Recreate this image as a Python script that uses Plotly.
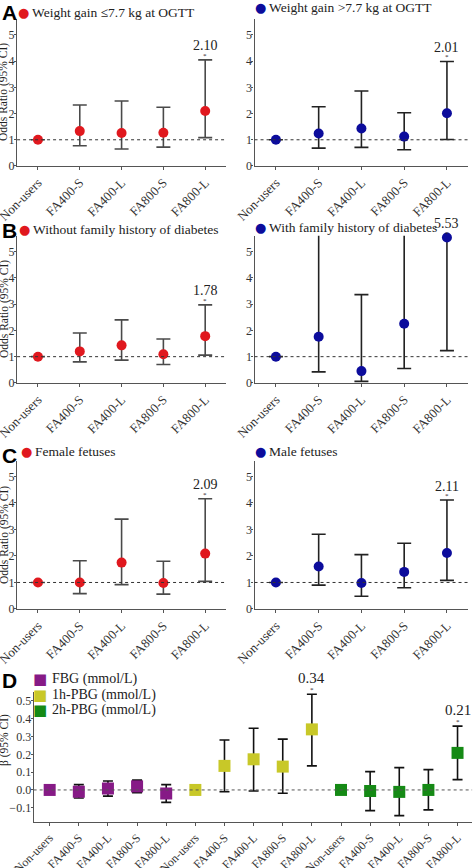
import plotly.graph_objects as go

# categories
groups = ["Non-users", "FA400-S", "FA400-L", "FA800-S", "FA800-L"]

# panel A: weight gain
wg_low_or = [1.00, 1.33, 1.26, 1.27, 2.10]
wg_low_lo = [1.00, 0.77, 0.65, 0.72, 1.08]
wg_low_hi = [1.00, 2.33, 2.48, 2.24, 4.05]
wg_high_or = [1.00, 1.24, 1.43, 1.12, 2.01]
wg_high_lo = [1.00, 0.68, 0.71, 0.62, 1.01]
wg_high_hi = [1.00, 2.26, 2.86, 2.03, 3.99]

# panel B: family history of diabetes
fh_no_or = [1.00, 1.20, 1.43, 1.09, 1.78]
fh_no_lo = [1.00, 0.80, 0.87, 0.70, 1.06]
fh_no_hi = [1.00, 1.90, 2.40, 1.67, 2.97]
fh_yes_or = [1.00, 1.76, 0.45, 2.25, 5.53]
fh_yes_lo = [1.00, 0.42, 0.06, 0.55, 1.23]
fh_yes_hi = [1.00, 7.40, 3.36, 9.20, 24.8]

# panel C: fetal sex
female_or = [1.00, 1.00, 1.75, 0.98, 2.09]
female_lo = [1.00, 0.58, 0.92, 0.56, 1.04]
female_hi = [1.00, 1.82, 3.39, 1.80, 4.16]
male_or = [1.00, 1.60, 0.98, 1.40, 2.11]
male_lo = [1.00, 0.90, 0.48, 0.80, 1.08]
male_hi = [1.00, 2.82, 2.05, 2.48, 4.11]

# panel D: glucose betas
fbg_b = [0.000, -0.010, 0.008, 0.020, -0.020]
fbg_lo = [0.000, -0.045, -0.035, -0.015, -0.070]
fbg_hi = [0.000, 0.030, 0.050, 0.055, 0.030]
pbg1_b = [0.000, 0.135, 0.172, 0.131, 0.340]
pbg1_lo = [0.000, -0.010, -0.006, -0.019, 0.135]
pbg1_hi = [0.000, 0.280, 0.346, 0.285, 0.537]
pbg2_b = [0.000, -0.006, -0.011, 0.000, 0.208]
pbg2_lo = [0.000, -0.116, -0.144, -0.112, 0.058]
pbg2_hi = [0.000, 0.103, 0.125, 0.114, 0.358]

RED = "#e0181e"
BLUE = "#0c0c9c"
PURPLE = "#861a86"
YELLOW = "#c8c828"
GREEN = "#158a15"
SERIF = "Liberation Serif"
AX = "#555555"
W, H = 474, 868

fig = go.Figure()


def add_points(xs, est, lo, hi, color, symbol, size, xa, ya, cap, bar):
    # error bars clipped at the axis top, markers not clipped
    fig.add_trace(go.Scatter(
        x=xs, y=est, mode="markers", xaxis=xa, yaxis=ya,
        marker=dict(size=1, opacity=0),
        error_y=dict(type="data", symmetric=False,
                     array=[h - e for h, e in zip(hi, est)],
                     arrayminus=[e - l for e, l in zip(est, lo)],
                     color=bar, thickness=1.6, width=cap),
        showlegend=False, hoverinfo="skip"))
    fig.add_trace(go.Scatter(
        x=xs, y=est, mode="markers", xaxis=xa, yaxis=ya, cliponaxis=False,
        marker=dict(size=size, color=color, symbol=symbol, line=dict(width=0)),
        showlegend=False))


def sig_label(x, y, text, xa, ya, size=14, shift=14):
    fig.add_annotation(x=x, y=y, xref=xa, yref=ya, text=text, showarrow=False,
                       yshift=shift, font=dict(family=SERIF, size=size, color="#222"))
    fig.add_annotation(x=x, y=y, xref=xa, yref=ya, text="*", showarrow=False,
                       yshift=4, font=dict(family=SERIF, size=7, color="#222"))


def note(px, py, text, font, xanchor="center", angle=0):
    # text placed at pixel position (from top-left) of the figure
    fig.add_annotation(x=px / W, y=1 - py / H, xref="paper", yref="paper",
                       text=text, showarrow=False, textangle=angle,
                       xanchor=xanchor, yanchor="middle", font=font)


def axis_style(size=12, ticklen=3, **kw):
    base = dict(showline=True, linecolor=AX, linewidth=1.2, automargin=False,
                ticks="outside", ticklen=ticklen, tickcolor=AX,
                tickfont=dict(family=SERIF, size=size, color="#333"),
                showgrid=False, zeroline=False)
    base.update(kw)
    return base


# axis domains (paper)
left_x = [0.036, 0.477]
right_x = [0.537, 0.988]
rows_y = [[0.8088, 0.9778], [0.5588, 0.7285], [0.2984, 0.4694]]

or_panels = [
    (wg_low_or, wg_low_lo, wg_low_hi, wg_high_or, wg_high_lo, wg_high_hi),
    (fh_no_or, fh_no_lo, fh_no_hi, fh_yes_or, fh_yes_lo, fh_yes_hi),
    (female_or, female_lo, female_hi, male_or, male_lo, male_hi),
]

YMAX = 5.6
n = 1
for r, panel in enumerate(or_panels):
    for side in range(2):
        sfx = "" if n == 1 else str(n)
        xa, ya = "x" + sfx, "y" + sfx
        est, lo, hi = panel[3 * side:3 * side + 3]
        color = RED if side == 0 else BLUE
        bar = "#4a4a4a" if side == 0 else "#222222"
        dom = left_x if side == 0 else right_x
        fig.update_layout(**{
            "xaxis" + sfx: axis_style(size=13, domain=dom, anchor=ya, type="category",
                                      categoryorder="array", categoryarray=groups,
                                      range=[-0.5, 4.5], tickangle=-45),
            "yaxis" + sfx: axis_style(ticklen=2, domain=rows_y[r], anchor=xa,
                                      ticklabelstandoff=-3,
                                      range=[0, YMAX], tickvals=[0, 1, 2, 3, 4, 5]),
        })
        add_points(groups, est, lo, hi, color, "circle", 10, xa, ya, 7, bar)
        fig.add_shape(type="line", xref=xa + " domain", yref=ya, x0=0, x1=1,
                      y0=1, y1=1, line=dict(color="#333", width=1, dash="dot"))
        anchor = hi[-1] if hi[-1] < YMAX else est[-1]
        sig_label(groups[-1], anchor, f"{est[-1]:.2f}", xa, ya)
        n += 1

# panel D
d_groups = [f"{g}|{k}" for k in range(3) for g in groups]
fig.update_layout(
    xaxis7=axis_style(domain=[0.071, 0.996], anchor="y7", type="category",
                      categoryorder="array", categoryarray=d_groups,
                      range=[-0.55, 14.5], tickangle=-45,
                      tickvals=d_groups, ticktext=groups * 3),
    yaxis7=axis_style(ticklen=2, domain=[0.053, 0.2028], anchor="x7",
                      ticklabelstandoff=-3,
                      range=[-0.18, 0.55], tickformat=".1f",
                      tickvals=[-0.1, 0.0, 0.1, 0.2, 0.3, 0.4, 0.5]),
)
d_sets = [(fbg_b, fbg_lo, fbg_hi, PURPLE), (pbg1_b, pbg1_lo, pbg1_hi, YELLOW),
          (pbg2_b, pbg2_lo, pbg2_hi, GREEN)]
for k, (est, lo, hi, color) in enumerate(d_sets):
    xs = d_groups[5 * k:5 * k + 5]
    add_points(xs, est, lo, hi, color, "square", 12, "x7", "y7", 5, "#111111")
fig.add_shape(type="line", xref="x7 domain", yref="y7", x0=0, x1=1, y0=0, y1=0,
              line=dict(color="#555", width=1, dash="dot"))
sig_label(d_groups[9], pbg1_hi[-1], f"{pbg1_b[-1]:.2f}", "x7", "y7", size=15, shift=16)
sig_label(d_groups[14], pbg2_hi[-1], f"{pbg2_b[-1]:.2f}", "x7", "y7", size=15, shift=16)

# panel letters
for letter, y in [("A", 12), ("B", 230), ("C", 456), ("D", 680)]:
    note(9, y, f"<b>{letter}</b>", dict(family="Liberation Sans", size=21, color="black"))

# subgroup titles with dot keys
titles = [
    ("Weight gain ≤7.7 kg at OGTT", RED, 23, 12),
    ("Weight gain >7.7 kg at OGTT", BLUE, 260, 8),
    ("Without family history of diabetes", RED, 24, 229),
    ("With family history of diabetes", BLUE, 260, 228),
    ("Female fetuses", RED, 26, 452),
    ("Male fetuses", BLUE, 260, 451),
]
for text, color, x, y in titles:
    note(x, y, "●", dict(family="DejaVu Sans", size=13, color=color))
    note(x + 7, y, text, dict(family=SERIF, size=13.5, color="#222"), xanchor="left")

# panel D legend
d_names = ["FBG (mmol/L)", "1h-PBG (mmol/L)", "2h-PBG (mmol/L)"]
for name, color, y in zip(d_names, [PURPLE, YELLOW, GREEN], [679, 695, 710]):
    note(40, y, "■", dict(family="DejaVu Sans", size=15, color=color))
    note(50, y, name, dict(family=SERIF, size=14, color="#222"), xanchor="left")

# y axis titles
for text, y in [("Odds Ratio (95% CI)", 92), ("Odds Ratio (95% CI)", 309),
                ("Odds Ratio (95% CI)", 535), ("β (95% CI)", 740)]:
    note(4, y, text, dict(family=SERIF, size=11.5, color="#222"), angle=-90)

fig.update_layout(
    template="none",
    width=W, height=H,
    margin=dict(l=0, r=0, t=0, b=0),
    paper_bgcolor="white", plot_bgcolor="white",
    showlegend=False,
)

fig.write_html("out.html", config={"displayModeBar": False},
               post_script="document.body.style.margin = '0px';")
